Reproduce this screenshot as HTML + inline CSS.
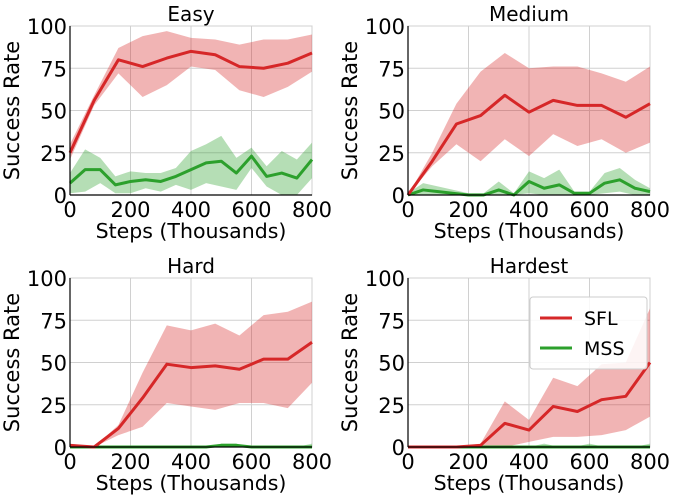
<!DOCTYPE html>
<html><head><meta charset="utf-8"><style>
body{margin:0;background:#fff;}
svg{display:block;font-family:"DejaVu Sans","Liberation Sans",sans-serif;}
</style></head><body>
<svg id="c" width="679" height="502"></svg>
<script>
const xTicks=[0,200,400,600,800];
const yTicks=[0,25,50,75,100];
const sflSteps=[0,80,160,240,320,400,480,560,640,720,800];
const mssSteps=[0,50,100,150,200,250,300,350,400,450,500,550,600,650,700,750,800];
const titles=["Easy","Medium","Hard","Hardest"];
const easySfl=[25,56,80,76,81,85,83,76,75,78,84];
const easySflLo=[21,53,72,58,65,76,74,62,58,64,73];
const easySflHi=[30,59,87,94,97,93,92,89,92,92,95];
const easyMss=[7,15,15,6,8,9,8,11,15,19,20,13,23,11,13,10,21];
const easyMssLo=[1,2,7,1,1,4,2,6,3,7,5,3,16,5,0,0,10];
const easyMssHi=[13,27,22,11,14,13,13,16,26,30,35,22,28,17,26,21,31];
const medSfl=[0,20,42,47,59,49,56,53,53,46,54];
const medSflLo=[0,17,30,20,33,23,36,29,33,25,31];
const medSflHi=[0,25,54,73,84,75,76,76,72,67,76];
const medMss=[0,3,2,1,0,0,3,0,8,4,6,1,1,7,9,4,2];
const medMssLo=[0,0,0,0,0,0,0,0,1,0,0,0,0,1,2,0,0];
const medMssHi=[1,7,5,3,1,1,8,1,14,10,15,2,2,13,16,9,4];
const hardSfl=[1,0,11,29,49,47,48,46,52,52,62];
const hardSflLo=[0,0,7,12,26,24,22,26,26,23,38];
const hardSflHi=[2,0,13,44,72,69,73,66,78,80,86];
const hardMss=[0,0,0,0,0,0,0,0,0,0,1,1,0,0,0,0,0];
const hardMssLo=[0,0,0,0,0,0,0,0,0,0,0,0,0,0,0,0,0];
const hardMssHi=[0,0,0,0,0,0,0,0,0,0,2,2,0,0,0,0,2];
const hstSfl=[0,0,0,1,14,10,24,21,28,30,50];
const hstSflLo=[0,0,0,0,0,3,6,6,7,10,18];
const hstSflHi=[0,0,0,2,27,16,41,36,49,50,82];
const hstMss=[0,0,0,0,0,0,0,0,0,0,0,0,0,0,0,0,0];
const hstMssLo=[0,0,0,0,0,0,0,0,0,0,0,0,0,0,0,0,0];
const hstMssHi=[0,0,0,0,0,0,0,0,0,2,0,0,2,0,0,0,2];

const panels=[
 {x0:70,x1:312,y0:195,y1:26,s:[easySfl,easySflLo,easySflHi],m:[easyMss,easyMssLo,easyMssHi]},
 {x0:408,x1:650,y0:195,y1:26,s:[medSfl,medSflLo,medSflHi],m:[medMss,medMssLo,medMssHi]},
 {x0:70,x1:312,y0:447,y1:278,s:[hardSfl,hardSflLo,hardSflHi],m:[hardMss,hardMssLo,hardMssHi]},
 {x0:408,x1:650,y0:447,y1:278,s:[hstSfl,hstSflLo,hstSflHi],m:[hstMss,hstMssLo,hstMssHi]}
];
const svg=document.getElementById('c');
const NS='http://www.w3.org/2000/svg';
function mk(t,a,p){const e=document.createElementNS(NS,t);for(const k in a)e.setAttribute(k,a[k]);(p||svg).appendChild(e);return e;}
panels.forEach((P,i)=>{
 const g=mk('g',{});
 
 
 const X=v=>P.x0+(P.x1-P.x0)*v/800;
 const Y=v=>P.y0+(P.y1-P.y0)*v/100;
 mk('rect',{x:P.x0,y:P.y1,width:P.x1-P.x0,height:P.y0-P.y1,fill:'none',stroke:'#ccc','stroke-width':1},g);
 xTicks.forEach(t=>{mk('line',{x1:X(t),x2:X(t),y1:P.y1,y2:P.y0,stroke:'#d0d0d0','stroke-width':1},g);
  const tx=mk('text',{x:X(t),y:P.y0+22,'text-anchor':'middle','font-size':21,fill:'#000'},g);tx.textContent=t;
  });
 yTicks.forEach(t=>{mk('line',{x1:P.x0,x2:P.x1,y1:Y(t),y2:Y(t),stroke:'#d0d0d0','stroke-width':1},g);
  const tx=mk('text',{x:P.x0-3,y:Y(t)+8,'text-anchor':'end','font-size':21,fill:'#000'},g);tx.textContent=t;
  });
 function band(xs,lo,hi,col,name){
  let d='M'+xs.map((x,j)=>X(x)+','+Y(hi[j])).join('L');
  for(let j=xs.length-1;j>=0;j--)d+='L'+X(xs[j])+','+Y(lo[j]);
  const p=mk('path',{d:d+'Z',fill:col,'fill-opacity':0.35,stroke:'none'},g);
  }
 function line(xs,ys,col,name){
  const p=mk('polyline',{points:xs.map((x,j)=>X(x)+','+Y(ys[j])).join(' '),fill:'none',stroke:col,'stroke-width':3,'stroke-linejoin':'round'},g);
  }
 band(sflSteps,P.s[1],P.s[2],'#d62728','sfl-band');
 band(mssSteps,P.m[1],P.m[2],'#2ca02c','mss-band');
 line(mssSteps,P.m[0],'#2ca02c','mss-line');
 line(sflSteps,P.s[0],'#d62728','sfl-line');
 mk('line',{x1:P.x0,x2:P.x0,y1:P.y1,y2:P.y0,stroke:'#000','stroke-width':1.2},g);
 mk('line',{x1:P.x0,x2:P.x1,y1:P.y0,y2:P.y0,stroke:'#000','stroke-width':1.2},g);
 const ti=mk('text',{x:(P.x0+P.x1)/2,y:P.y1-5,'text-anchor':'middle','font-size':20},g);ti.textContent=titles[i];
 
 const xl=mk('text',{x:(P.x0+P.x1)/2,y:P.y0+43,'text-anchor':'middle','font-size':20.5},g);xl.textContent='Steps (Thousands)';
 
 const cy=(P.y0+P.y1)/2, cx=P.x0-51;
 const yl=mk('text',{x:cx,y:cy,'text-anchor':'middle','font-size':21,transform:'rotate(-90 '+cx+' '+cy+')'},g);yl.textContent='Success Rate';
 
});
const lg=mk('g',{});


mk('rect',{x:530,y:297,width:117,height:72,rx:3,fill:'#fff','fill-opacity':0.85,stroke:'#ccc'},lg);
mk('line',{x1:540,x2:572,y1:318,y2:318,stroke:'#d62728','stroke-width':3},lg);
mk('line',{x1:540,x2:572,y1:348,y2:348,stroke:'#2ca02c','stroke-width':3},lg);
const t1=mk('text',{x:584,y:325,'font-size':19},lg);t1.textContent='SFL';

const t2=mk('text',{x:584,y:355,'font-size':19},lg);t2.textContent='MSS';

</script>
</body></html>
